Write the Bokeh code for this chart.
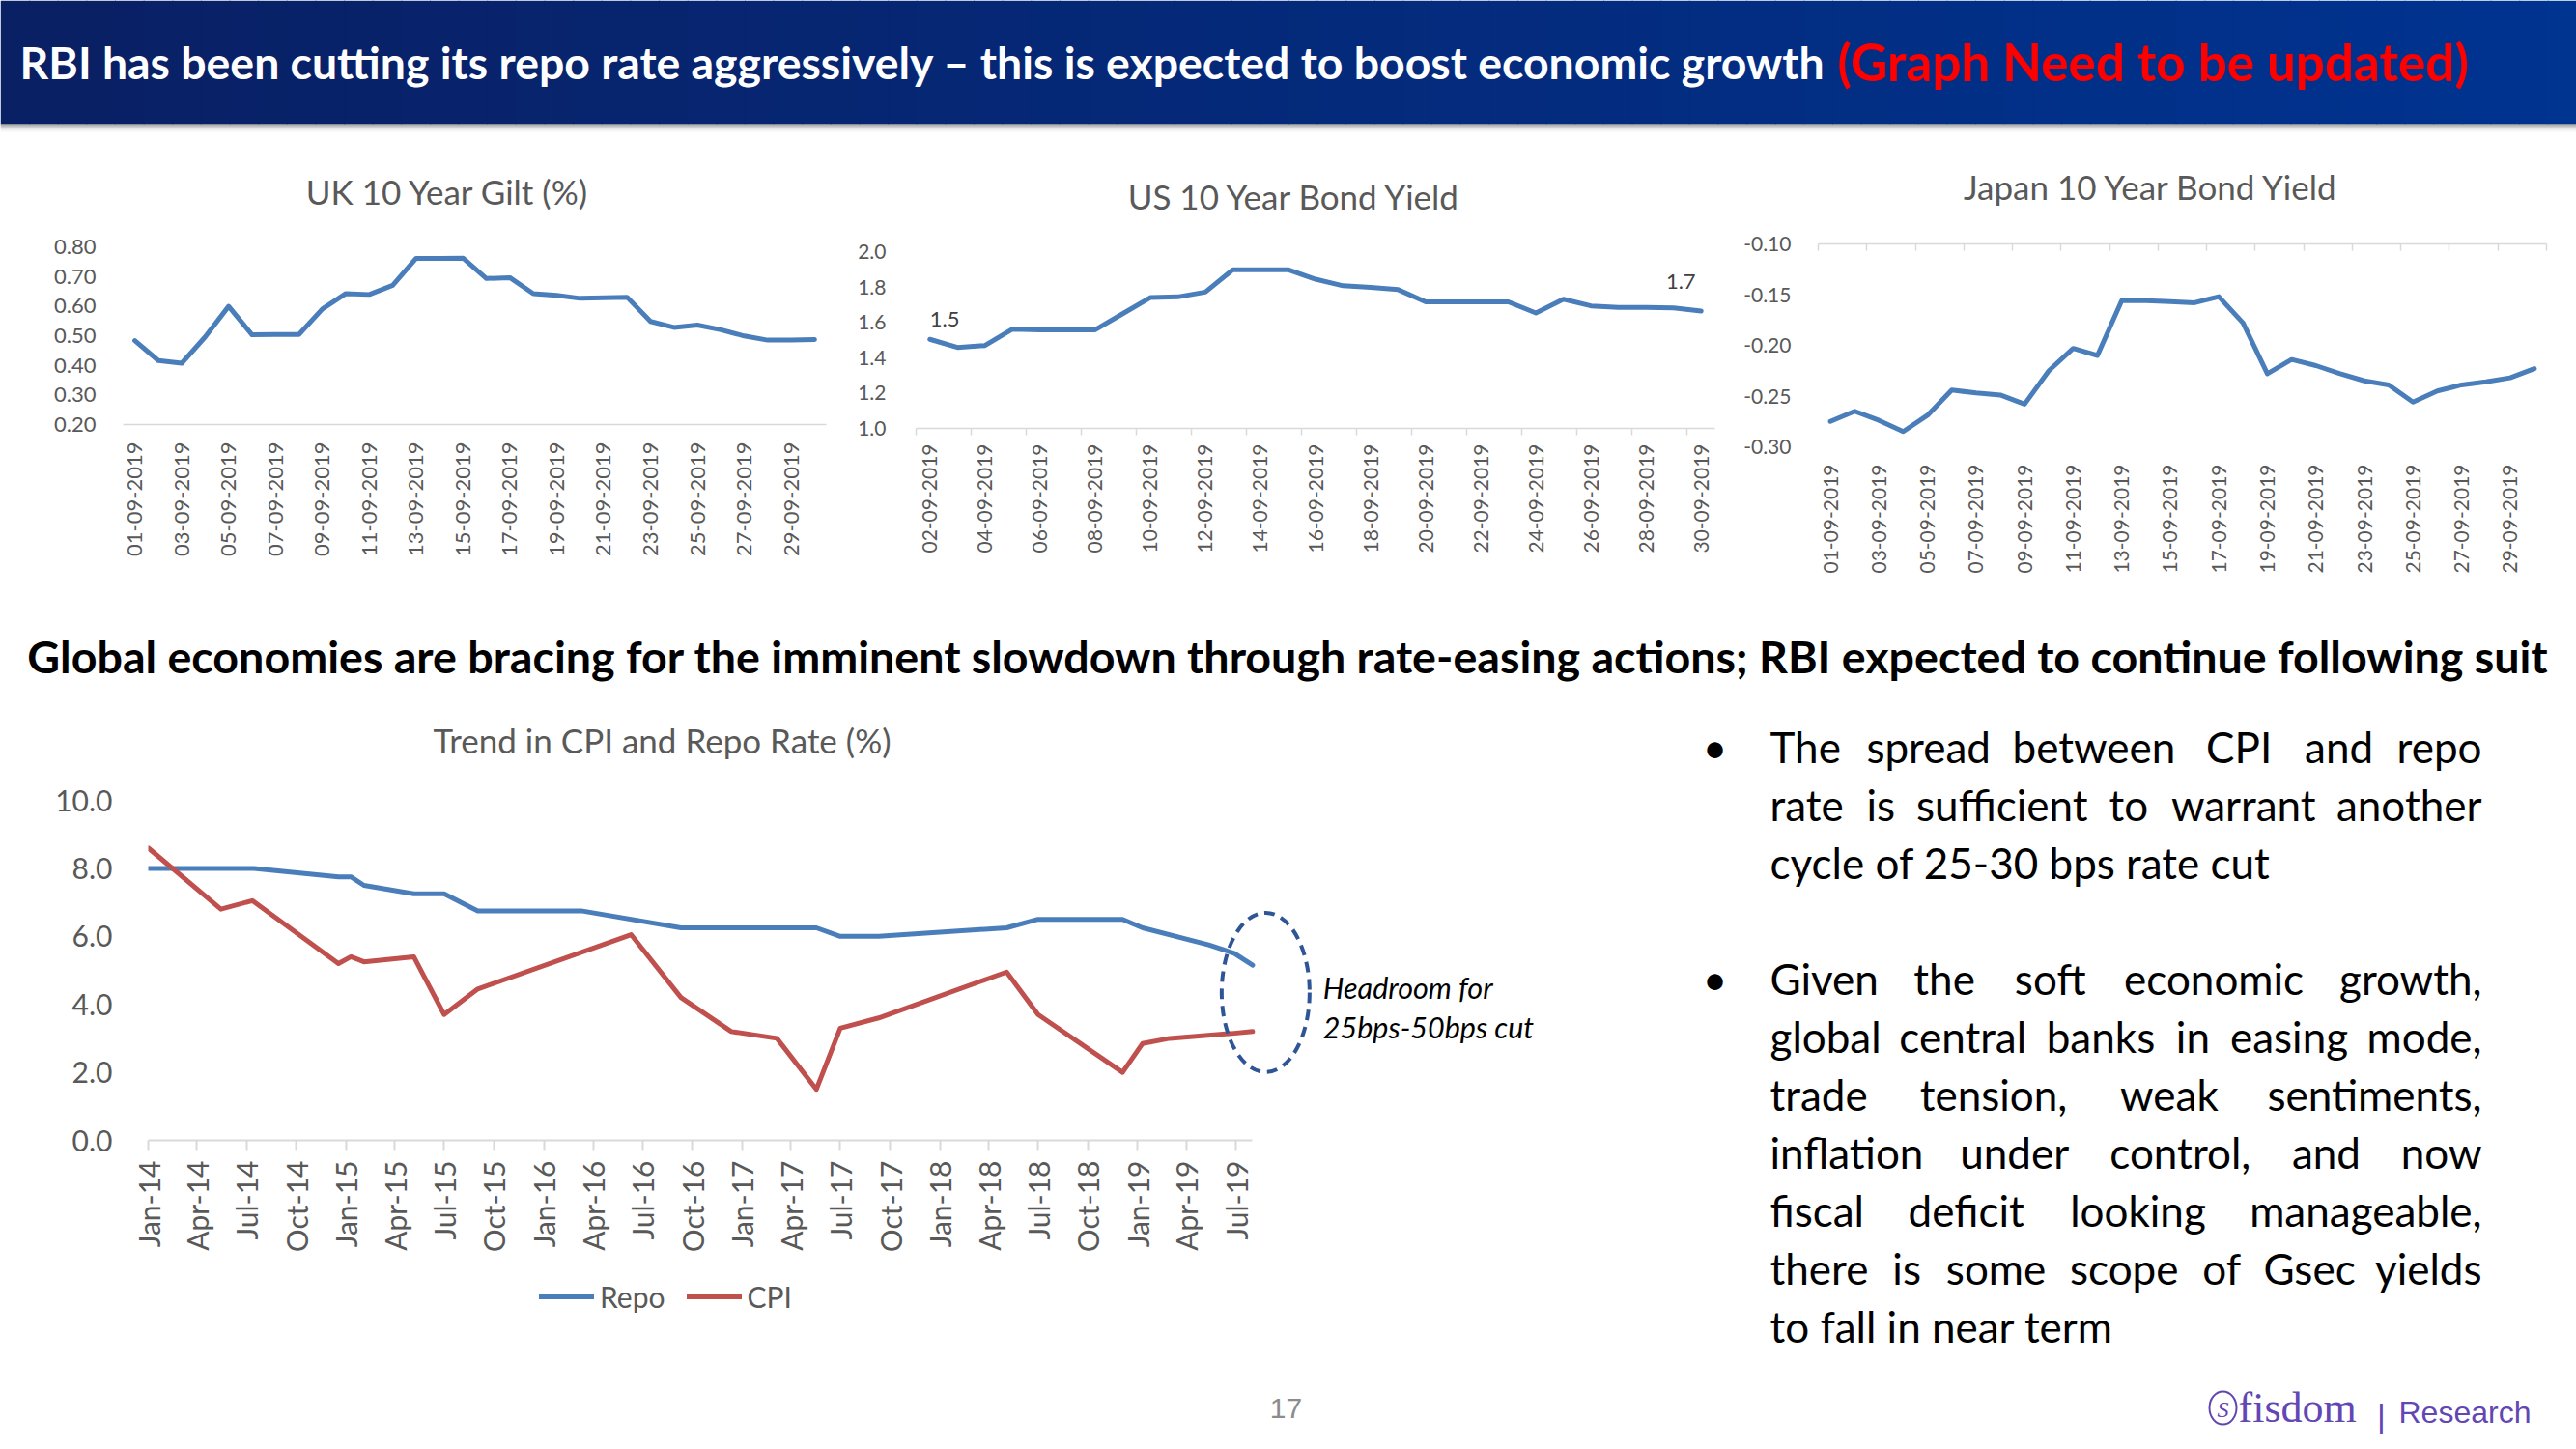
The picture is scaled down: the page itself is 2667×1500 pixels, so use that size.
import numpy as np
import pandas as pd
from bokeh.plotting import figure
from bokeh.layouts import column, row
from bokeh.models import (Range1d, FixedTicker, NumeralTickFormatter, DatetimeTickFormatter,
                          CustomJSTickFormatter, LinearAxis, DatetimeAxis, Legend, LegendItem)
from bokeh.core.properties import value
from bokeh.embed import file_html
from bokeh.resources import INLINE

FONT = "Lato"
GREY = "#595959"
BLUE = "#4A7EBB"
RED = "#C0504D"
AXIS = "#D9D9D9"

# ---------------- data ----------------
uk_dates = [f"{d:02d}-09-2019" for d in range(1, 31)]
uk_gilt = [0.483, 0.416, 0.407, 0.496, 0.599, 0.503, 0.504, 0.504, 0.590, 0.642,
           0.639, 0.670, 0.761, 0.761, 0.762, 0.693, 0.696, 0.642, 0.636, 0.626,
           0.628, 0.630, 0.548, 0.528, 0.536, 0.520, 0.499, 0.485, 0.485, 0.487]
uk_ticks = [0.20, 0.30, 0.40, 0.50, 0.60, 0.70, 0.80]

us_dates = [f"{d:02d}-09-2019" for d in range(2, 31)]
us_yield = [1.504, 1.458, 1.469, 1.562, 1.558, 1.558, 1.558, 1.649, 1.740, 1.744,
            1.771, 1.898, 1.898, 1.898, 1.844, 1.807, 1.798, 1.785, 1.716, 1.716,
            1.716, 1.716, 1.653, 1.731, 1.693, 1.685, 1.685, 1.682, 1.664]
us_ticks = [1.0, 1.2, 1.4, 1.6, 1.8, 2.0]

jp_dates = [f"{d:02d}-09-2019" for d in range(1, 31)]
jp_yield = [-0.275, -0.265, -0.274, -0.285, -0.269, -0.244, -0.247, -0.249, -0.258, -0.225,
            -0.203, -0.210, -0.156, -0.156, -0.157, -0.158, -0.152, -0.178, -0.228, -0.214,
            -0.220, -0.228, -0.235, -0.239, -0.256, -0.245, -0.239, -0.236, -0.232, -0.223]
jp_ticks = [-0.30, -0.25, -0.20, -0.15, -0.10]

series_names = ["Repo", "CPI"]
repo_dates = ["2014-01-01", "2014-07-15", "2014-12-18", "2015-01-10", "2015-02-03", "2015-05-06",
              "2015-07-01", "2015-09-01", "2016-03-10", "2016-09-10", "2017-05-18", "2017-07-01",
              "2017-09-10", "2018-05-04", "2018-07-01", "2018-12-04", "2019-01-10", "2019-05-12",
              "2019-06-28", "2019-08-01"]
repo_rate = [8.0, 8.0, 7.75, 7.75, 7.5, 7.25, 7.25, 6.75, 6.75, 6.25, 6.25, 6.0, 6.0, 6.25,
             6.5, 6.5, 6.25, 5.75, 5.5, 5.15]
cpi_dates = ["2014-01-01", "2014-05-15", "2014-07-12", "2014-12-18", "2015-01-10", "2015-02-03",
             "2015-05-06", "2015-07-01", "2015-09-01", "2016-06-10", "2016-09-10", "2016-12-12",
             "2017-03-06", "2017-05-18", "2017-07-01", "2017-09-10", "2018-05-04", "2018-07-01",
             "2018-12-04", "2019-01-10", "2019-03-01", "2019-06-28", "2019-08-01"]
cpi_rate = [8.6, 6.8, 7.05, 5.2, 5.4, 5.25, 5.4, 3.7, 4.45, 6.05, 4.2, 3.2, 3.0, 1.5, 3.3, 3.6,
            4.95, 3.7, 2.0, 2.85, 3.0, 3.15, 3.2]
cpi_ticks = [0, 2, 4, 6, 8, 10]
cpi_axis_start = "2014-01-01"
cpi_axis_end = "2019-08-01"
cpi_label_dates = pd.date_range("2014-01-01", "2019-07-01", freq="QS-JAN")

header_text = "RBI has been cutting its repo rate aggressively \u2013 this is expected to boost economic growth"
header_note = "(Graph Need to be updated)"
subtitle = ("Global economies are bracing for the imminent slowdown through rate-easing actions; "
            "RBI expected to continue following suit")
para1 = ["The spread between CPI and repo", "rate is sufficient to warrant another",
         "cycle of 25-30 bps rate cut"]
para2 = ["Given the soft economic growth,", "global central banks in easing mode,",
         "trade tension, weak sentiments,", "inflation under control, and now",
         "fiscal deficit looking manageable,", "there is some scope of Gsec yields",
         "to fall in near term"]


def ms(s):
    return pd.Timestamp(s).value / 1e6


def bl(y, size):
    # place the visible alphabetic baseline of a text of the given px size at slide row y
    return y - 0.36 * size


# ---------------- helpers ----------------
def canvas(x0, x1, y0, y1):
    p = figure(width=x1 - x0, height=y1 - y0, x_range=Range1d(x0, x1), y_range=Range1d(y1, y0),
               output_backend="svg", toolbar_location=None, frame_align=False,
               min_border_left=0, min_border_right=0, min_border_top=0, min_border_bottom=0,
               x_axis_location=None, y_axis_location=None)
    p.outline_line_color = None
    p.xgrid.visible = False
    p.ygrid.visible = False
    p.border_fill_color = "white"
    p.background_fill_color = "white"
    return p


def chart(width, height, n, yr, bl_, br, bt, bb):
    p = figure(width=width, height=height, x_range=Range1d(0, n), y_range=Range1d(*yr),
               output_backend="svg", toolbar_location=None, frame_align=False,
               min_border_left=bl_, min_border_right=br, min_border_top=bt, min_border_bottom=bb,
               x_axis_location=None, y_axis_location=None)
    p.outline_line_color = None
    p.xgrid.visible = False
    p.ygrid.visible = False
    p.border_fill_color = "white"
    p.background_fill_color = "white"
    return p


def y_axis(ticks, fmt, size, standoff):
    return LinearAxis(ticker=FixedTicker(ticks=ticks), formatter=NumeralTickFormatter(format=fmt),
                      axis_line_color=None, major_tick_line_color=None, minor_tick_line_color=None,
                      major_label_text_font=FONT, major_label_text_font_size=size,
                      major_label_text_color=GREY, major_label_standoff=standoff)


def label_axis(dates, size, standoff, line=True):
    pos = [i + 0.5 for i in range(0, len(dates), 2)]
    labs = [dates[i] for i in range(0, len(dates), 2)]
    return LinearAxis(ticker=FixedTicker(ticks=pos), major_label_overrides=dict(zip(pos, labs)),
                      major_label_orientation=np.pi / 2,
                      axis_line_color=AXIS if line else None, axis_line_width=1.5,
                      major_tick_line_color=None, minor_tick_line_color=None,
                      major_tick_out=0, major_tick_in=0,
                      major_label_text_font=FONT, major_label_text_font_size=size,
                      major_label_text_color=GREY, major_label_standoff=standoff)


def tick_axis(n, tick_in, tick_out):
    return LinearAxis(ticker=FixedTicker(ticks=list(range(0, n + 1, 2))),
                      formatter=CustomJSTickFormatter(code="return ''"),
                      axis_line_color=AXIS, axis_line_width=1.5,
                      major_tick_line_color=AXIS, major_tick_line_width=1.5,
                      major_tick_in=tick_in, major_tick_out=tick_out,
                      minor_tick_line_color=None, major_label_text_font_size="1px",
                      major_label_standoff=0)


# ---------------- header ----------------
hd = canvas(0, 2667, 0, 140)
nstrip = 90
edges = np.linspace(0, 2667, nstrip + 1)
c0 = np.array([10, 32, 100])
c1 = np.array([0, 52, 145])
cols = ["#%02x%02x%02x" % tuple(int(v) for v in c0 + (c1 - c0) * t) for t in np.linspace(0, 1, nstrip)]
hd.quad(left=edges[:-1], right=edges[1:] + 1, top=0, bottom=128, fill_color=cols, line_color=None)
shade = ["#8a8a8a", "#a0a0a0", "#b4b4b4", "#c6c6c6", "#d6d6d6", "#e3e3e3", "#eeeeee", "#f6f6f6"]
hd.quad(left=0, right=2667, top=[128 + i for i in range(8)], bottom=[129 + i for i in range(8)],
        fill_color=shade, line_color=None)
hd.text(x=[20], y=[bl(80, 46.4)], text=[header_text], text_font=value(FONT), text_font_style="bold",
        text_font_size="46.4px", text_color="white", text_baseline="alphabetic", text_align="left")
hd.text(x=[1902], y=[bl(82, 53)], text=[header_note], text_font=value(FONT), text_font_style="bold",
        text_font_size="53px", text_color="#FF0000", text_baseline="alphabetic", text_align="left")

# ---------------- chart titles strip ----------------
ts = canvas(0, 2667, 140, 230)
ts.text(x=[463, 1340, 2227], y=[bl(210, 35), bl(215, 35), bl(205, 35)],
        text=["UK 10 Year Gilt (%)", "US 10 Year Bond Yield", "Japan 10 Year Bond Yield"],
        text_font=value(FONT), text_font_size="35px", text_color=GREY,
        text_align="center", text_baseline="alphabetic")

# ---------------- UK ----------------
uk = chart(870, 410, len(uk_dates), (0.2, 0.8), 127, 15, 25, 201)
uk.add_layout(y_axis(uk_ticks, "0.00", "22px", 22), "left")
uk.add_layout(label_axis(uk_dates, "22px", 18), "below")
uk.line(x=[i + 0.5 for i in range(len(uk_dates))], y=uk_gilt, line_color=BLUE, line_width=5,
        line_join="round", line_cap="round")

# ---------------- US ----------------
us = chart(920, 410, len(us_dates), (1.0, 2.0), 78, 15, 30, 197)
us.add_layout(y_axis(us_ticks, "0.0", "21px", 25), "left")
us.add_layout(tick_axis(len(us_dates) - 1, 0, 7), "below")
us.add_layout(label_axis(us_dates, "21px", 9, line=False), "below")
usx = [i + 0.5 for i in range(len(us_dates))]
us.line(x=usx, y=us_yield, line_color=BLUE, line_width=5, line_join="round", line_cap="round")
us.text(x=[usx[0]], y=[us_yield[0]], text=[f"{us_yield[0]:.1f}"], x_offset=0, y_offset=-21,
        text_font=value(FONT), text_font_size="22px", text_color="#404040",
        text_align="left", text_baseline="alphabetic")
us.text(x=[usx[-1]], y=[us_yield[-1]], text=[f"{us_yield[-1]:.1f}"], x_offset=-21, y_offset=-30,
        text_font=value(FONT), text_font_size="22px", text_color="#404040",
        text_align="center", text_baseline="alphabetic")

# ---------------- Japan ----------------
jp = chart(877, 410, len(jp_dates), (-0.30, -0.10), 92, 31, 22, 178)
jp.add_layout(y_axis(jp_ticks, "0.00", "21px", 22), "left")
jp.add_layout(tick_axis(len(jp_dates), 7, 0), "above")
jp.add_layout(label_axis(jp_dates, "21px", 18, line=False), "below")
jp.line(x=[i + 0.5 for i in range(len(jp_dates))], y=jp_yield, line_color=BLUE, line_width=5,
        line_join="round", line_cap="round")

# ---------------- subtitle ----------------
sb = canvas(0, 2667, 640, 720)
sb.text(x=[1333], y=[bl(695, 46.6)], text=[subtitle], text_font=value(FONT), text_font_style="bold",
        text_font_size="46.6px", text_color="black", text_align="center", text_baseline="alphabetic")

# ---------------- CPI / Repo chart ----------------
ct = canvas(0, 1700, 720, 810)
ct.text(x=[685], y=[bl(778, 35)], text=["Trend in CPI and Repo Rate (%)"], text_font=value(FONT),
        text_font_size="35px", text_color=GREY, text_align="center", text_baseline="alphabetic")

t0 = ms(cpi_axis_start)
px_per_day = (1279 - 153) / 2007.0
t1 = t0 + (1690 - 153) / px_per_day * 86400000.0
cp = figure(width=1700, height=500, x_range=Range1d(t0, t1), y_range=Range1d(0, 10),
            output_backend="svg", toolbar_location=None, frame_align=False,
            min_border_left=153, min_border_right=10, min_border_top=18, min_border_bottom=130,
            x_axis_location=None, y_axis_location=None)
cp.outline_line_color = None
cp.xgrid.visible = False
cp.ygrid.visible = False
cp.add_layout(y_axis(cpi_ticks, "0.0", "30px", 31), "left")
fmt = "%b-%y"
cxa = DatetimeAxis(ticker=FixedTicker(ticks=[d.value / 1e6 for d in cpi_label_dates]),
                   formatter=DatetimeTickFormatter(days=fmt, months=fmt, years=fmt),
                   bounds=(t0, ms(cpi_axis_end)), major_label_orientation=np.pi / 2,
                   axis_line_color=AXIS, axis_line_width=2,
                   major_tick_line_color=AXIS, major_tick_line_width=2,
                   major_tick_out=10, major_tick_in=0, minor_tick_line_color=None,
                   major_label_text_font=FONT, major_label_text_font_size="30px",
                   major_label_text_color=GREY, major_label_standoff=11)
cp.add_layout(cxa, "below")
cp.line(x=pd.to_datetime(repo_dates), y=repo_rate, line_color=BLUE, line_width=5,
        line_join="round", line_cap="round")
cp.line(x=pd.to_datetime(cpi_dates), y=cpi_rate, line_color=RED, line_width=5,
        line_join="round", line_cap="round")
cp.ellipse(x=[ms("2019-08-25")], y=[4.35], width=91, height=165, width_units="screen",
           height_units="screen", fill_color=None, line_color="#2F5597", line_width=4,
           line_dash="11 7")
cp.text(x=[ms("2019-12-09")] * 2, y=[4.49, 3.35], text=["Headroom for", "25bps-50bps cut"],
        text_font=value(FONT), text_font_style="italic", text_font_size="30.5px", text_color="black",
        text_align="left", text_baseline="alphabetic")

# legend strip under the CPI chart (legend swatches only, no plotted data)
lg = canvas(0, 1700, 1310, 1420)
lr1 = lg.line(x=[np.nan], y=[np.nan], line_color=BLUE, line_width=5, line_cap="round")
lr2 = lg.line(x=[np.nan], y=[np.nan], line_color=RED, line_width=5, line_cap="round")
legend = Legend(items=[LegendItem(label=series_names[0], renderers=[lr1]),
                       LegendItem(label=series_names[1], renderers=[lr2])],
                orientation="horizontal", location=(558, 60), border_line_color=None,
                background_fill_alpha=0, label_text_font=FONT, label_text_font_size="30px",
                label_text_color=GREY, glyph_width=57, glyph_height=30, label_standoff=6,
                spacing=22, padding=0, margin=0)
lg.add_layout(legend, "center")

# ---------------- text block ----------------
tx = canvas(1700, 2667, 720, 1420)
CW = {' ': 0.26, 'a': 0.49, 'b': 0.55, 'c': 0.45, 'd': 0.55, 'e': 0.51, 'f': 0.31, 'g': 0.49,
      'h': 0.55, 'i': 0.23, 'j': 0.23, 'k': 0.49, 'l': 0.23, 'm': 0.83, 'n': 0.55, 'o': 0.55,
      'p': 0.55, 'q': 0.55, 'r': 0.36, 's': 0.41, 't': 0.34, 'u': 0.55, 'v': 0.49, 'w': 0.75,
      'x': 0.48, 'y': 0.49, 'z': 0.43, ',': 0.22, '.': 0.22, '-': 0.35}
BODY = 44
LEFT, RIGHT = 1832, 2569


def est(word):
    return BODY * sum(CW.get(ch, 0.64 if ch.isupper() else 0.58) for ch in word)


words = {"left": ([], [], []), "center": ([], [], []), "right": ([], [], [])}
lines = [(l, i == len(para1) - 1) for i, l in enumerate(para1)] + \
        [(l, i == len(para2) - 1) for i, l in enumerate(para2)]
baselines = [788, 848, 908, 1028, 1088, 1148, 1208, 1268, 1328, 1388]
for (line, last), yb in zip(lines, baselines):
    yb = bl(yb, BODY)
    if last:
        words["left"][0].append(LEFT); words["left"][1].append(yb); words["left"][2].append(line)
        continue
    ws = line.split()
    wd = [est(w) for w in ws]
    gap = (RIGHT - LEFT - sum(wd)) / (len(ws) - 1)
    xcur = LEFT
    for k, (w, d) in enumerate(zip(ws, wd)):
        if k == 0:
            key, xx = "left", LEFT
        elif k == len(ws) - 1:
            key, xx = "right", RIGHT
        else:
            key, xx = "center", xcur + d / 2
        words[key][0].append(xx); words[key][1].append(yb); words[key][2].append(w)
        xcur += d + gap
for key, (xs_, ys_, tt) in words.items():
    tx.text(x=xs_, y=ys_, text=tt, text_font=value(FONT), text_font_size=f"{BODY}px",
            text_color="black", text_align=key, text_baseline="alphabetic")
tx.text(x=[1775, 1775], y=[bl(788, BODY), bl(1028, BODY)], text=["\u2022", "\u2022"],
        text_font=value(FONT), text_font_size=f"{BODY}px", text_color="black",
        text_align="center", text_baseline="alphabetic")

# ---------------- footer ----------------
ft = canvas(0, 2667, 1420, 1500)
ft.text(x=[1331], y=[bl(1468, 30)], text=["17"], text_font=value("Liberation Sans"),
        text_font_size="30px", text_color="#8c8c8c", text_align="center", text_baseline="alphabetic")
PURPLE = "#6246B4"
ft.ellipse(x=[2301], y=[1457], width=28, height=34, fill_color=None, line_color=PURPLE, line_width=2)
ft.text(x=[2301], y=[bl(1467, 24)], text=["S"], text_font=value("Liberation Serif"),
        text_font_style="italic", text_font_size="24px", text_color=PURPLE, text_align="center",
        text_baseline="alphabetic")
ft.text(x=[2317], y=[bl(1473, 44)], text=["fisdom"], text_font=value("Liberation Serif"),
        text_font_size="44px", text_color=PURPLE, text_align="left", text_baseline="alphabetic")
ft.text(x=[2465], y=[bl(1477, 34)], text=["|"], text_font=value("Liberation Sans"),
        text_font_size="34px", text_color=PURPLE, text_align="center", text_baseline="alphabetic")
ft.text(x=[2483], y=[bl(1473, 32)], text=["Research"], text_font=value("Liberation Sans"),
        text_font_size="32px", text_color=PURPLE, text_align="left", text_baseline="alphabetic")

layout = column(hd, ts, row(uk, us, jp), sb, row(column(ct, cp, lg), tx), ft)
open("out.html", "w").write(file_html(layout, INLINE))
